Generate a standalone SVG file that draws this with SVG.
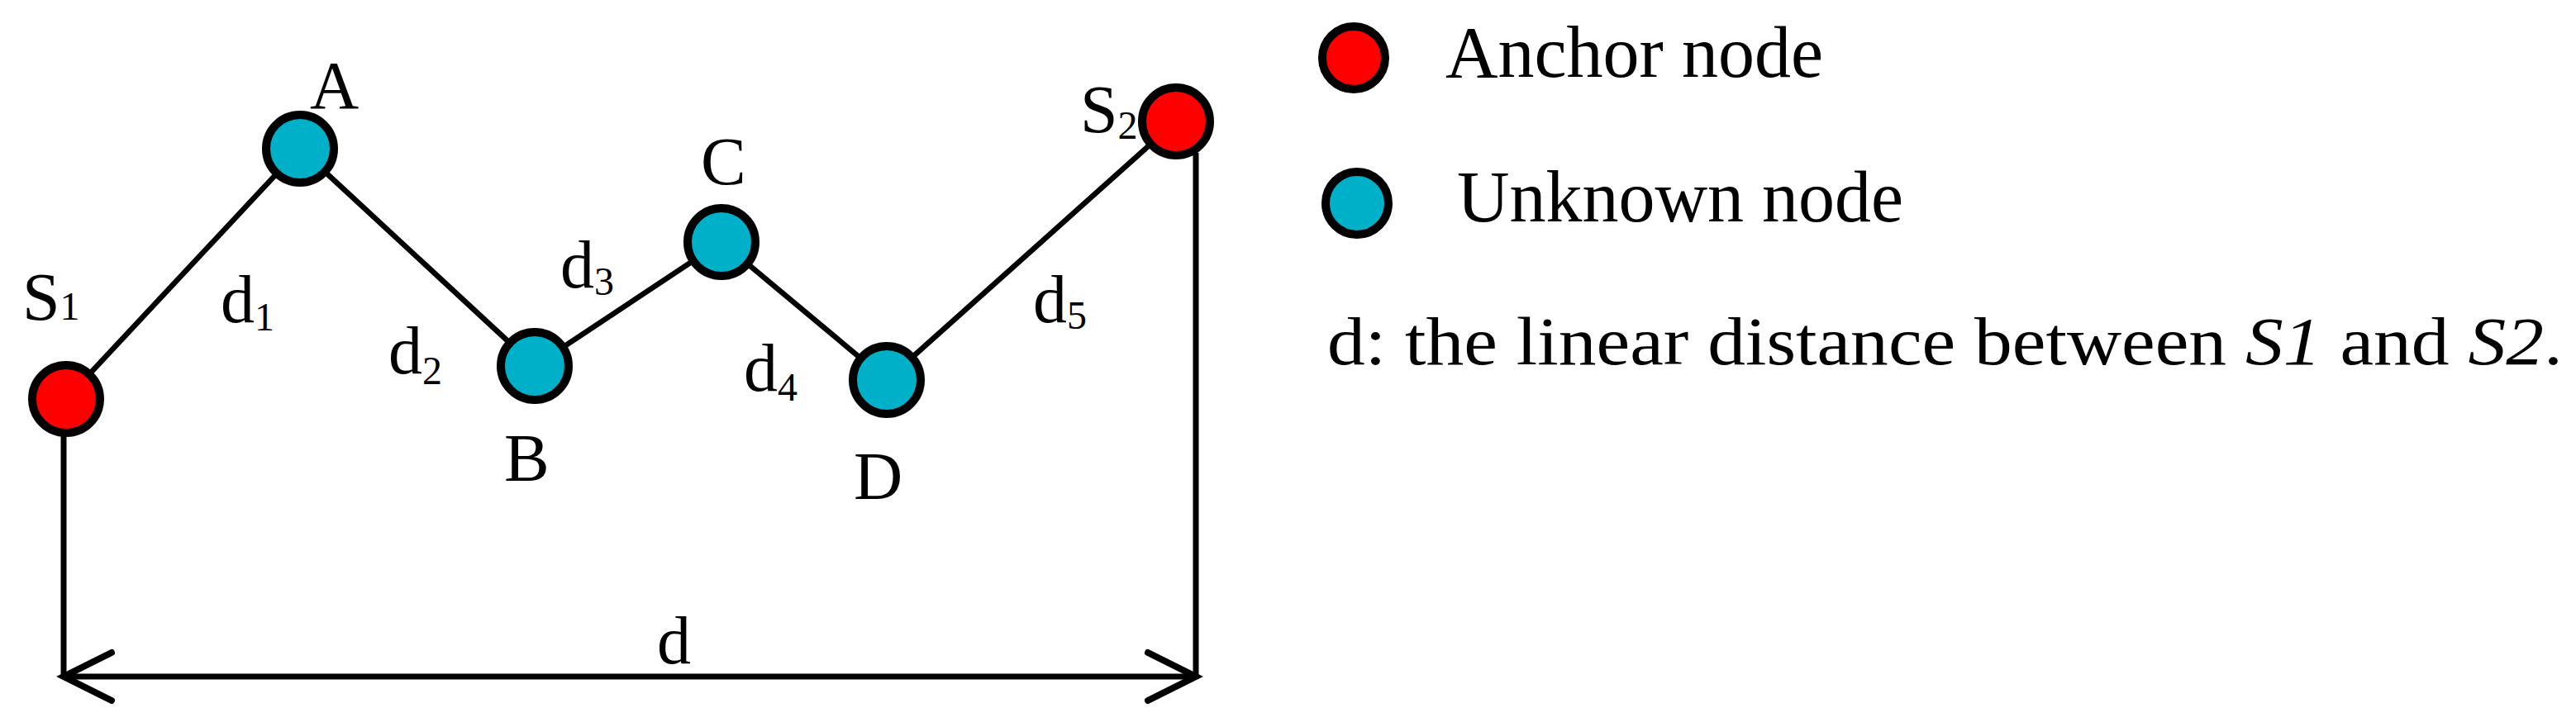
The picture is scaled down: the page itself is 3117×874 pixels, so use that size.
<svg xmlns="http://www.w3.org/2000/svg" width="3117" height="874" viewBox="0 0 3117 874">
<style>
  .lbl{font-family:"Liberation Serif","Times New Roman",serif;font-size:82px;fill:#000}
  .leg{font-size:88px}
  .sub{font-size:48px}
  .edge{stroke:#000;stroke-width:6.5;fill:none}
  .anchor{fill:#FF0000;stroke:#000;stroke-width:10}
  .unknown{fill:#00AFC8;stroke:#000;stroke-width:10}
  .dim{stroke:#000;stroke-width:7;fill:none}
</style>
<defs>
  <marker id="chev" markerUnits="userSpaceOnUse" markerWidth="80" markerHeight="80" viewBox="-70 -40 80 80" refX="0" refY="0" orient="auto-start-reverse" overflow="visible">
    <path d="M -58 -29 L 0 0 L -58 29" fill="none" stroke="#000" stroke-width="8" stroke-linecap="round" stroke-linejoin="miter"/>
  </marker>
</defs>
<rect width="3117" height="874" fill="#fff"/>
<g id="connectors">
  <line class="edge" x1="80" y1="483" x2="363" y2="180"/>
  <line class="edge" x1="363" y1="180" x2="647" y2="443"/>
  <line class="edge" x1="647" y1="443" x2="873" y2="293"/>
  <line class="edge" x1="873" y1="293" x2="1073" y2="460"/>
  <line class="edge" x1="1073" y1="460" x2="1423" y2="147"/>
  <line class="dim" x1="77" y1="525" x2="77" y2="822"/>
  <line class="dim" x1="1447" y1="185" x2="1447" y2="822"/>
  <line class="dim" x1="77" y1="819" x2="1447" y2="819" stroke-width="8" marker-start="url(#chev)" marker-end="url(#chev)"/>
  <text class="lbl" x="267" y="390">d<tspan class="sub" dy="10">1</tspan></text>
  <text class="lbl" x="470" y="452">d<tspan class="sub" dy="13">2</tspan></text>
  <text class="lbl" x="678" y="348">d<tspan class="sub" dy="9">3</tspan></text>
  <text class="lbl" x="900" y="473">d<tspan class="sub" dy="12">4</tspan></text>
  <text class="lbl" x="1250" y="390">d<tspan class="sub" dy="8">5</tspan></text>
  <text class="lbl" x="795" y="803">d</text>
</g>
<g id="node-S1">
  <circle class="anchor" cx="80" cy="483" r="41"/>
  <text class="lbl" x="27" y="387">S<tspan class="sub" dy="0">1</tspan></text>
</g>
<g id="node-A">
  <circle class="unknown" cx="363" cy="180" r="41"/>
  <text class="lbl" x="375" y="131">A</text>
</g>
<g id="node-B">
  <circle class="unknown" cx="647" cy="443" r="41"/>
  <text class="lbl" x="610" y="582">B</text>
</g>
<g id="node-C">
  <circle class="unknown" cx="873" cy="293" r="41"/>
  <text class="lbl" x="848" y="223">C</text>
</g>
<g id="node-D">
  <circle class="unknown" cx="1073" cy="460" r="41"/>
  <text class="lbl" x="1033" y="604">D</text>
</g>
<g id="node-S2">
  <circle class="anchor" cx="1423" cy="147" r="41"/>
  <text class="lbl" x="1307" y="160">S<tspan class="sub" dy="8">2</tspan></text>
</g>
<g id="legend">
  <circle class="anchor" cx="1638" cy="70" r="38"/>
  <text class="lbl leg" x="1749" y="93">Anchor node</text>
  <circle class="unknown" cx="1642" cy="246" r="38"/>
  <text class="lbl leg" x="1763" y="268">Unknown node</text>
  <text class="lbl" x="1606" y="441" font-size="88" textLength="1495" lengthAdjust="spacingAndGlyphs">d: the linear distance between <tspan font-style="italic">S1</tspan> and <tspan font-style="italic">S2</tspan>.</text>
</g>
</svg>
